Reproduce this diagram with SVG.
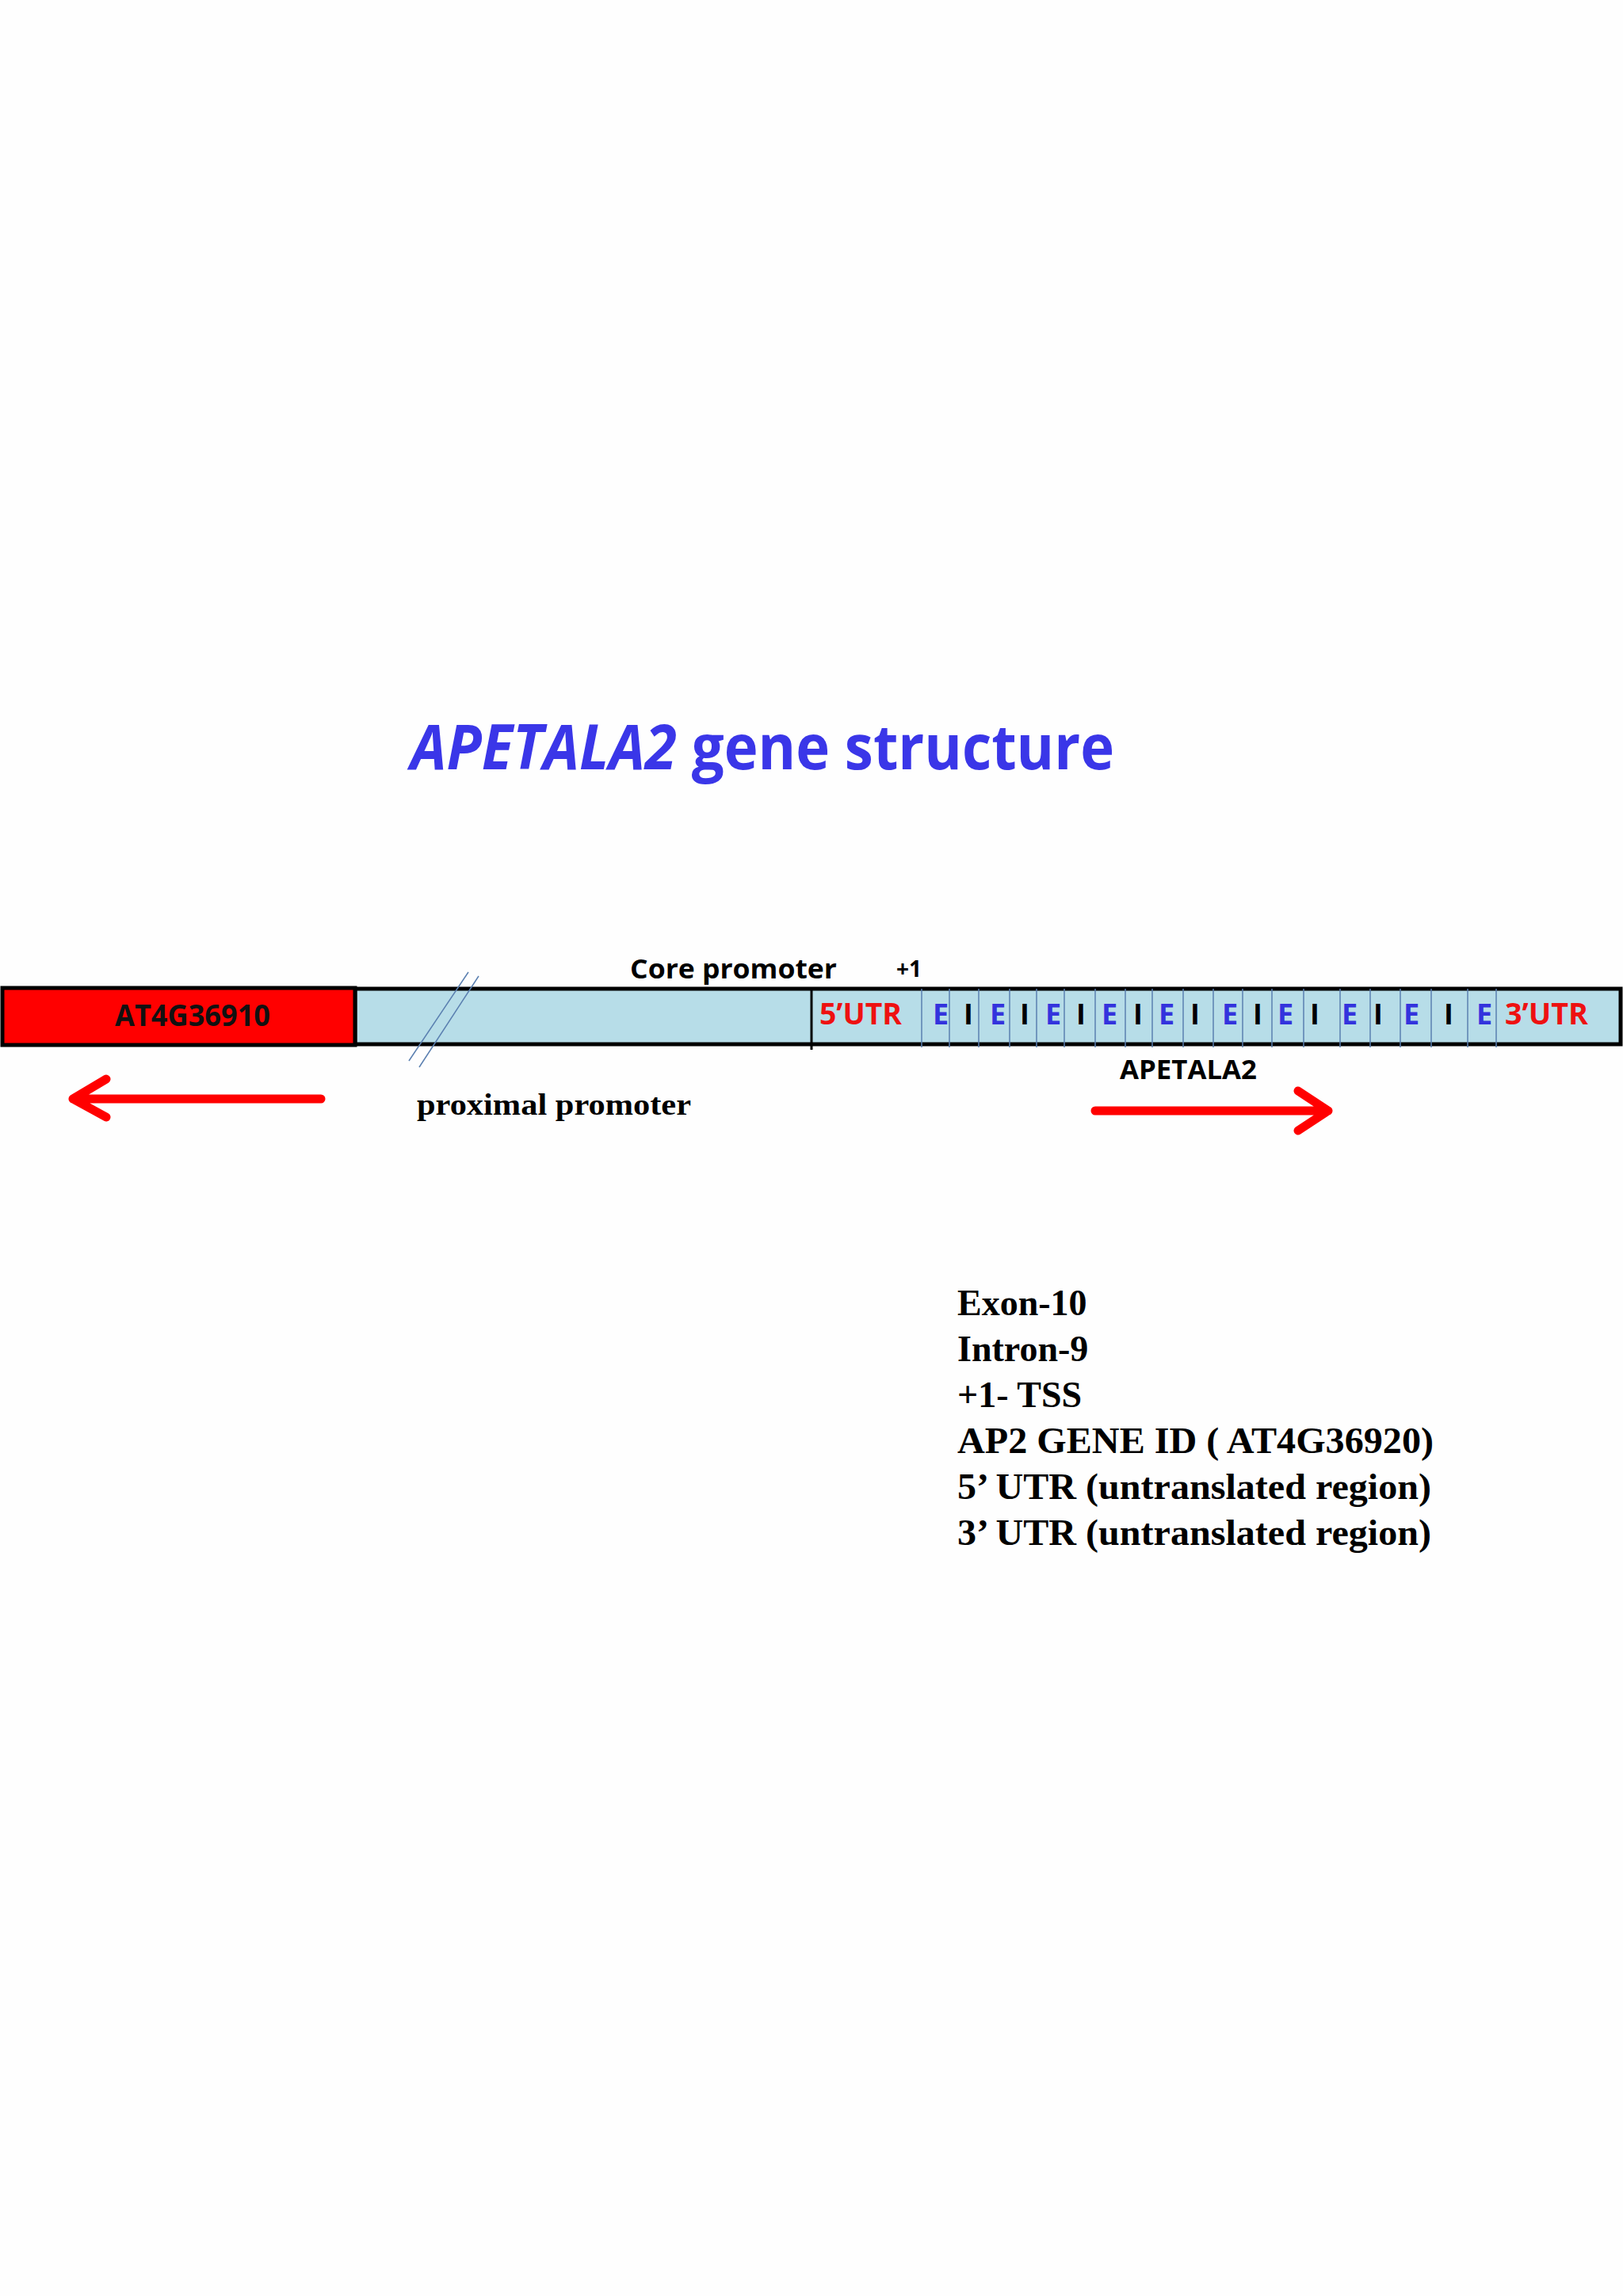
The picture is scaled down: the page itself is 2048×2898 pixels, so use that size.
<svg xmlns="http://www.w3.org/2000/svg" width="2048" height="2898" viewBox="0 0 2048 2898">
<style>
.cal{font-family:"Open Sans","Liberation Sans",sans-serif;font-weight:bold}
.tim{font-family:"Liberation Serif",serif;font-weight:bold;fill:#000}
.e{fill:#3333dd;font-size:36px}
.i{fill:#000;font-size:36px}
.div{stroke:#5a7fb0;stroke-width:1.5}
</style>
<rect width="2048" height="2898" fill="#fefefe"/>
<g id="title">
<text x="518" y="971" class="cal" font-size="78" fill="#3a36e8" textLength="888" lengthAdjust="spacingAndGlyphs"><tspan font-style="italic">APETALA2</tspan> gene structure</text>
</g>
<g id="bar">
<rect x="448" y="1248" width="1597" height="70" fill="#b7dde8" stroke="#000" stroke-width="5"/>
</g>
<g id="at4g36910">
<rect x="3" y="1247" width="445" height="72" fill="#ff0000" stroke="#000" stroke-width="5"/>
<text x="145" y="1295" class="cal" font-size="37" fill="#111" textLength="196" lengthAdjust="spacingAndGlyphs">AT4G36910</text>
</g>
<g id="break">
<line x1="591" y1="1227" x2="516" y2="1339" class="div"/>
<line x1="604" y1="1232" x2="529" y2="1347" class="div"/>
</g>
<g id="labels">
<text x="795" y="1235" class="cal" font-size="34" fill="#000" textLength="261" lengthAdjust="spacingAndGlyphs">Core promoter</text>
<text x="1131" y="1233" class="cal" font-size="28" fill="#000">+1</text>
<text x="526" y="1407" class="tim" font-size="38" textLength="346" lengthAdjust="spacingAndGlyphs">proximal promoter</text>
<text x="1413" y="1362" class="cal" font-size="34" fill="#000" textLength="173" lengthAdjust="spacingAndGlyphs">APETALA2</text>
</g>
<g id="gene">
<line x1="1024" y1="1248" x2="1024" y2="1325" stroke="#000" stroke-width="3"/>
<text x="1034" y="1293" class="cal" font-size="38" fill="#ee1111" textLength="104" lengthAdjust="spacingAndGlyphs">5’UTR</text>
<text x="1899" y="1293" class="cal" font-size="38" fill="#ee1111" textLength="105" lengthAdjust="spacingAndGlyphs">3’UTR</text>
<g>
<line x1="1163" y1="1248" x2="1163" y2="1322" class="div"/>
<line x1="1198" y1="1248" x2="1198" y2="1322" class="div"/>
<line x1="1235" y1="1248" x2="1235" y2="1322" class="div"/>
<line x1="1274" y1="1248" x2="1274" y2="1322" class="div"/>
<line x1="1308" y1="1248" x2="1308" y2="1322" class="div"/>
<line x1="1343" y1="1248" x2="1343" y2="1322" class="div"/>
<line x1="1382" y1="1248" x2="1382" y2="1322" class="div"/>
<line x1="1420" y1="1248" x2="1420" y2="1322" class="div"/>
<line x1="1454" y1="1248" x2="1454" y2="1322" class="div"/>
<line x1="1493" y1="1248" x2="1493" y2="1322" class="div"/>
<line x1="1531" y1="1248" x2="1531" y2="1322" class="div"/>
<line x1="1568" y1="1248" x2="1568" y2="1322" class="div"/>
<line x1="1605" y1="1248" x2="1605" y2="1322" class="div"/>
<line x1="1645" y1="1248" x2="1645" y2="1322" class="div"/>
<line x1="1691" y1="1248" x2="1691" y2="1322" class="div"/>
<line x1="1729" y1="1248" x2="1729" y2="1322" class="div"/>
<line x1="1767" y1="1248" x2="1767" y2="1322" class="div"/>
<line x1="1806" y1="1248" x2="1806" y2="1322" class="div"/>
<line x1="1852" y1="1248" x2="1852" y2="1322" class="div"/>
<line x1="1888" y1="1248" x2="1888" y2="1322" class="div"/>
</g>
<g class="cal" text-anchor="middle">
<text x="1187" y="1293" class="cal e">E</text>
<text x="1222" y="1293" class="cal i">I</text>
<text x="1259" y="1293" class="cal e">E</text>
<text x="1293" y="1293" class="cal i">I</text>
<text x="1329" y="1293" class="cal e">E</text>
<text x="1364" y="1293" class="cal i">I</text>
<text x="1400" y="1293" class="cal e">E</text>
<text x="1436" y="1293" class="cal i">I</text>
<text x="1472" y="1293" class="cal e">E</text>
<text x="1508" y="1293" class="cal i">I</text>
<text x="1552" y="1293" class="cal e">E</text>
<text x="1587" y="1293" class="cal i">I</text>
<text x="1622" y="1293" class="cal e">E</text>
<text x="1659" y="1293" class="cal i">I</text>
<text x="1703" y="1293" class="cal e">E</text>
<text x="1739" y="1293" class="cal i">I</text>
<text x="1781" y="1293" class="cal e">E</text>
<text x="1828" y="1293" class="cal i">I</text>
<text x="1873" y="1293" class="cal e">E</text>
</g>
</g>
<g id="connectors" stroke="#ff0000" stroke-width="11" fill="none" stroke-linecap="round" stroke-linejoin="round">
<path d="M405 1387 H92 M134 1362 L92 1387 L134 1410" />
<path d="M1382 1402 H1676 M1638 1377 L1676 1402 L1638 1427" />
</g>
<g id="legend" font-size="46" class="tim">
<text x="1208" y="1660" class="tim">Exon-10</text>
<text x="1208" y="1718" class="tim">Intron-9</text>
<text x="1208" y="1776" class="tim">+1- TSS</text>
<text x="1208" y="1834" class="tim" textLength="601" lengthAdjust="spacingAndGlyphs">AP2 GENE ID ( AT4G36920)</text>
<text x="1208" y="1892" class="tim" textLength="598" lengthAdjust="spacingAndGlyphs">5’ UTR (untranslated region)</text>
<text x="1208" y="1950" class="tim" textLength="598" lengthAdjust="spacingAndGlyphs">3’ UTR (untranslated region)</text>
</g>
</svg>
